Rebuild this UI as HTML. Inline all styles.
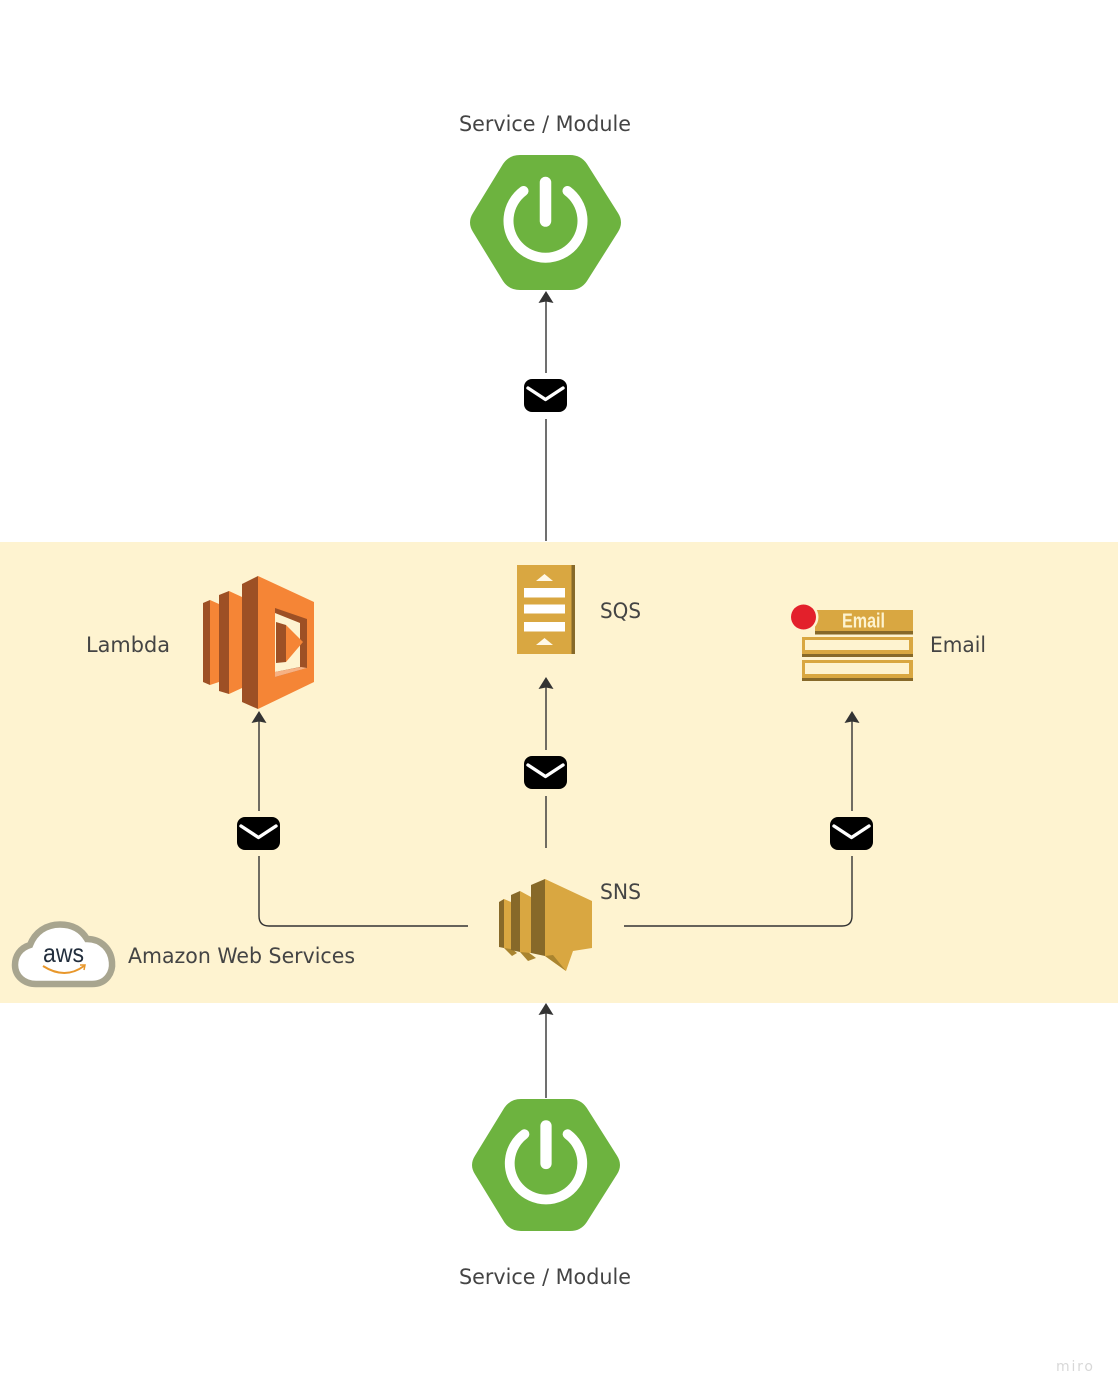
<!DOCTYPE html>
<html lang="en">
<head>
<meta charset="utf-8">
<title>Service / Module diagram</title>
<style>
html,body{margin:0;padding:0;background:#fff;width:1118px;height:1397px;overflow:hidden}
svg{display:block}
text{font-family:"DejaVu Sans",sans-serif;font-size:21px;fill:#444}
.ln{fill:none;stroke:#333;stroke-width:1.4}
.ar{fill:#333}
</style>
</head>
<body>
<svg width="1118" height="1397" viewBox="0 0 1118 1397" xmlns="http://www.w3.org/2000/svg">
<defs>
<g id="hex">
<path d="M520,155H570Q581,155 587,164L618,213Q624,222.500 618,232L587,281Q581,290 570,290H520Q509,290 503,281L473,232Q467,222.500 473,213L503,164Q509,155 520,155Z" fill="#6db33f"/>
<path d="M523.500,191A37,37 0 1 0 567.500,191" fill="none" stroke="#fff" stroke-width="10" stroke-linecap="round"/>
<line x1="545.500" y1="182.500" x2="545.500" y2="221" stroke="#fff" stroke-width="11.500" stroke-linecap="round"/>
</g>
<g id="env">
<rect x="-21.500" y="-16.500" width="43" height="33" rx="8" fill="#000"/>
<path d="M-17.500,-7.500L0,4L17.500,-7.500" fill="none" stroke="#fff" stroke-width="3.400" stroke-linecap="round" stroke-linejoin="round"/>
</g>
<path id="arr" d="M0,0L7.500,12L0,10.500L-7.500,12Z"/>
</defs>

<rect x="0" y="542" width="1118" height="461" fill="#fef3d0"/>

<!-- connectors -->
<path class="ln" d="M546,373V300"/>
<path class="ln" d="M546,541V419"/>
<path class="ln" d="M546,848V796"/>
<path class="ln" d="M546,750V686"/>
<path class="ln" d="M259,811V720"/>
<path class="ln" d="M852,811V720"/>
<path class="ln" d="M259,856V916Q259,926 269,926H468"/>
<path class="ln" d="M624,926H842Q852,926 852,916V856"/>
<path class="ln" d="M546,1098V1012"/>
<use href="#arr" class="ar" x="546" y="291"/>
<use href="#arr" class="ar" x="546" y="677"/>
<use href="#arr" class="ar" x="259" y="711"/>
<use href="#arr" class="ar" x="852" y="711"/>
<use href="#arr" class="ar" x="546" y="1003"/>

<!-- envelopes -->
<use href="#env" x="545.500" y="395.500"/>
<use href="#env" x="545.500" y="772.500"/>
<use href="#env" x="258.500" y="833.500"/>
<use href="#env" x="851.500" y="833.500"/>

<!-- spring hexes -->
<use href="#hex"/>
<g transform="translate(546,1165) scale(0.98,0.978) translate(-545.500,-222.500)"><use href="#hex"/></g>

<!-- Lambda -->
<polygon points="203,603 210,600 210,685 203,682" fill="#9d5025"/>
<polygon points="210,600 219,604 219,682 210,685" fill="#f58536"/>
<polygon points="219,595 229,591 229,694 219,691" fill="#9d5025"/>
<polygon points="229,591 242,597 242,688 229,694" fill="#f58536"/>
<polygon points="242,584 258,576 258,709 242,702" fill="#9d5025"/>
<polygon points="258,576 314,602 314,682 258,709" fill="#f58536"/>
<polygon points="275,608 307,619 307,668 275,677" fill="#9d5025"/>
<polygon points="275,613 300,623 300,667 275,672" fill="#fef3d0"/>
<polygon points="275,672 301,667 307,668 275,677" fill="#f7b183"/>
<polygon points="276,622 286,625 286,662 276,663" fill="#9d5025"/>
<polygon points="286,625 303,642 286,662" fill="#f58536"/>

<!-- SQS -->
<rect x="517" y="565" width="54.500" height="89" fill="#d9a741"/>
<rect x="571.500" y="565" width="3.500" height="89" fill="#876929"/>
<rect x="524" y="588" width="41" height="9.500" fill="#fff"/>
<rect x="524" y="604.500" width="41" height="9" fill="#fff"/>
<rect x="524" y="622" width="41" height="9.500" fill="#fff"/>
<polygon points="536,581 544.500,574 553,581" fill="#fff8e6"/>
<polygon points="536,645 544.500,638 553,645" fill="#fff8e6"/>

<!-- Email -->
<rect x="815" y="610" width="98" height="21" fill="#d9a741"/>
<rect x="815" y="631" width="98" height="3.500" fill="#876929"/>
<circle cx="803" cy="617" r="15.500" fill="#fef3d0"/>
<circle cx="803.500" cy="617" r="12.500" fill="#e3202b"/>
<text x="842" y="627.500" textLength="43" lengthAdjust="spacingAndGlyphs" style="font-family:'Liberation Sans',sans-serif;font-size:20px;font-weight:700;fill:#fdf3d0">Email</text>
<rect x="802" y="637" width="111" height="20" fill="#d9a741"/>
<rect x="805" y="640" width="104" height="10" fill="#fef3d0"/>
<rect x="802" y="654" width="111" height="3" fill="#876929"/>
<rect x="802" y="660" width="111" height="21" fill="#d9a741"/>
<rect x="805" y="663" width="104" height="11" fill="#fef3d0"/>
<rect x="802" y="678" width="111" height="3" fill="#876929"/>

<!-- SNS -->
<polygon points="504,948 512,956 517,953 511,948" fill="#a9842f"/>
<polygon points="520,952 528,961 536,958 528,952" fill="#a9842f"/>
<polygon points="499,902 504,899 504,948 499,947" fill="#876929"/>
<polygon points="504,899 511,902 511,949 504,948" fill="#d9a741"/>
<polygon points="511,895 520,891 520,952 511,950" fill="#876929"/>
<polygon points="520,891 531,897 531,953 520,952" fill="#d9a741"/>
<polygon points="531,885 545,879 545,956 531,953" fill="#876929"/>
<polygon points="545,879 592,901 592,948 573,951 566,971 545,956" fill="#d9a741"/>
<polygon points="545,956 553,955 566,971" fill="#a9842f"/>

<!-- AWS cloud -->
<path d="M36,984H92C107,984 113,972 112,962C111,950 102,939 87,939C81,929 72,924.500 60,924.500C46,924.500 35,932 30,945C20,948 15,956 15,965C15,976 24,984 36,984Z" fill="#fff" stroke="#a8a58f" stroke-width="6.500"/>
<text x="43" y="962" textLength="41" lengthAdjust="spacingAndGlyphs" style="font-family:'Liberation Sans',sans-serif;font-size:26px;fill:#232f3e">aws</text>
<path d="M43,966Q65,980 84,966" fill="none" stroke="#e8972b" stroke-width="2"/>
<path d="M80,965L85,965L84,970" fill="none" stroke="#e8972b" stroke-width="1.500"/>

<!-- labels -->
<text x="459" y="131" textLength="172" lengthAdjust="spacingAndGlyphs">Service / Module</text>
<text x="459" y="1284" textLength="172" lengthAdjust="spacingAndGlyphs">Service / Module</text>
<text x="86" y="652" textLength="84" lengthAdjust="spacingAndGlyphs">Lambda</text>
<text x="600" y="618" textLength="41" lengthAdjust="spacingAndGlyphs">SQS</text>
<text x="930" y="652" textLength="56" lengthAdjust="spacingAndGlyphs">Email</text>
<text x="600" y="899" textLength="41" lengthAdjust="spacingAndGlyphs">SNS</text>
<text x="128" y="963" textLength="227" lengthAdjust="spacingAndGlyphs">Amazon Web Services</text>
<text x="1056" y="1371" textLength="37" lengthAdjust="spacing" style="font-size:14px;fill:#d8d8d8">miro</text>
</svg>
</body>
</html>
